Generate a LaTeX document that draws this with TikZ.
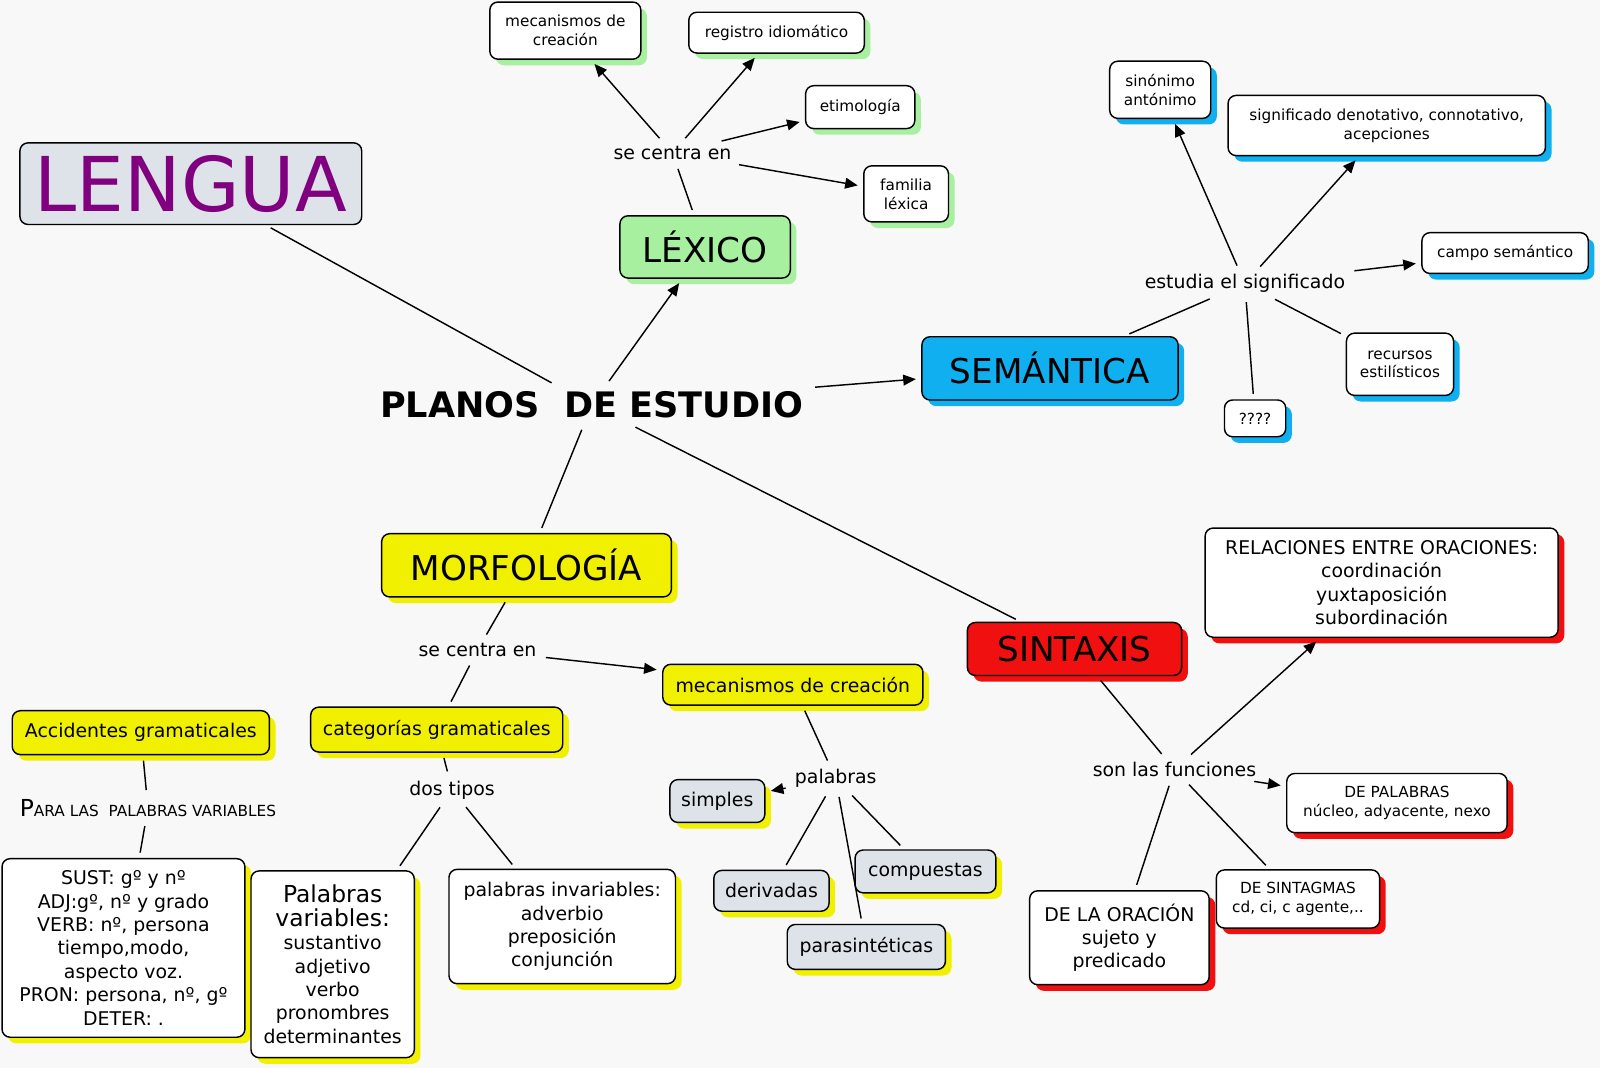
\documentclass[tikz,border=0pt]{standalone}
\usepackage{fontspec}
\setmainfont{DejaVu Sans}
\usetikzlibrary{shadows,arrows.meta}
\definecolor{bg}{HTML}{F8F8F8}
\definecolor{grn}{HTML}{A6F0A0}
\definecolor{blu}{HTML}{10B0F0}
\definecolor{yel}{HTML}{F0F000}
\definecolor{redd}{HTML}{F01010}
\definecolor{gry}{HTML}{DDE3E8}
\definecolor{purp}{HTML}{800080}
\def\PX{0.567pt}
\tikzset{
  bx/.style={draw, line width=0.8pt, rounded corners=4.5pt, align=center, inner sep=2pt,
    drop shadow={shadow xshift=3.4pt, shadow yshift=-3.4pt, fill=#1, opacity=1}},
  sm/.style={font=\fontsize{8.5}{10.5}\selectfont},
  md/.style={font=\fontsize{10.5}{13}\selectfont},
  big/.style={font=\fontsize{19}{23}\selectfont},
  lab/.style={md, inner sep=2pt},
  ln/.style={line width=0.8pt, shorten <=3pt, shorten >=3pt},
  ar/.style={ln, -{Triangle[length=7pt,width=6pt]}},
}
\begin{document}
\begin{tikzpicture}[x=0.567pt,y=-0.567pt]
\fill[bg] (0,0) rectangle (1568,1047);
\useasboundingbox (0,0) rectangle (1568,1047);
% main
\node[draw, line width=0.8pt, rounded corners=4.5pt, fill=gry, text=purp, font=\fontsize{42}{46}\selectfont,
  minimum width=335*\PX, minimum height=80*\PX] (lengua) at (187,180) {LENGUA};
\node[font=\fontsize{19.5}{24}\selectfont\bfseries] (planos) at (580,397) {PLANOS\ \ DE ESTUDIO};
% lexico
\node[bx=grn, fill=grn, big, minimum width=167*\PX, minimum height=61*\PX] (lexico) at (691,242) {LÉXICO};
\node[lab] (sc1) at (659,150) {se centra en};
\node[bx=grn, fill=white, sm, minimum width=148*\PX, minimum height=56*\PX] (mec1) at (554,30) {mecanismos de\\creación};
\node[bx=grn, fill=white, sm, minimum width=172*\PX, minimum height=40*\PX] (reg) at (761,32) {registro idiomático};
\node[bx=grn, fill=white, sm, minimum width=107*\PX, minimum height=42*\PX] (eti) at (843,105) {etimología};
\node[bx=grn, fill=white, sm, minimum width=83*\PX, minimum height=55*\PX] (fam) at (888,190) {familia\\léxica};
% semantica
\node[bx=blu, fill=blu, big, minimum width=251*\PX, minimum height=62*\PX] (sem) at (1029,361) {SEMÁNTICA};
\node[lab] (est) at (1220,278) {estudia el significado};
\node[bx=blu, fill=white, sm, minimum width=99*\PX, minimum height=56*\PX] (sin) at (1137,88) {sinónimo\\antónimo};
\node[bx=blu, fill=white, sm, minimum width=311*\PX, minimum height=59*\PX] (sig) at (1359,123) {significado denotativo, connotativo,\\acepciones};
\node[bx=blu, fill=white, sm, minimum width=163*\PX, minimum height=40*\PX] (cam) at (1475,248) {campo semántico};
\node[bx=blu, fill=white, sm, minimum width=105*\PX, minimum height=61*\PX] (rec) at (1372,357) {recursos\\estilísticos};
\node[bx=blu, fill=white, sm, minimum width=60*\PX, minimum height=36*\PX] (qq) at (1230,410) {????};
% morfologia
\node[bx=yel, fill=yel, big, minimum width=284*\PX, minimum height=62*\PX] (mor) at (516,554) {MORFOLOGÍA};
\node[lab] (sc2) at (468,637) {se centra en};
\node[bx=yel, fill=yel, md, minimum width=255*\PX, minimum height=40*\PX] (mec2) at (777,671) {mecanismos de creación};
\node[bx=yel, fill=yel, md, minimum width=247*\PX, minimum height=44*\PX] (cat) at (428,715) {categorías gramaticales};
\node[bx=yel, fill=yel, md, minimum width=252*\PX, minimum height=43*\PX] (acc) at (138,718) {Accidentes gramaticales};
\node[inner sep=2pt] (para) at (145,792) {\fontsize{13}{15}\selectfont P\fontsize{8.5}{10}\selectfont ARA LAS\ \ PALABRAS VARIABLES};
\node[bx=yel, fill=white, md, minimum width=238*\PX, minimum height=175*\PX] (sust) at (121,929)
  {SUST: gº y nº\\ADJ:gº, nº y grado\\VERB: nº, persona\\tiempo,modo,\\aspecto voz.\\PRON: persona, nº, gº\\DETER: .};
\node[lab] (dos) at (443,774) {dos tipos};
\node[bx=yel, fill=white, md, minimum width=160*\PX, minimum height=183*\PX] (pv) at (326,945)
  {{\fontsize{13}{15}\selectfont Palabras}\\{\fontsize{13}{15}\selectfont variables:}\\sustantivo\\adjetivo\\verbo\\pronombres\\determinantes};
\node[bx=yel, fill=white, md, minimum width=222*\PX, minimum height=112*\PX] (pi) at (551,908)
  {palabras invariables:\\adverbio\\preposición\\conjunción};
\node[lab] (pal) at (819,763) {palabras};
\node[bx=yel, fill=gry, md, minimum width=93*\PX, minimum height=42*\PX] (simp) at (703,785) {simples};
\node[bx=yel, fill=gry, md, minimum width=113*\PX, minimum height=40*\PX] (der) at (756,873) {derivadas};
\node[bx=yel, fill=gry, md, minimum width=138*\PX, minimum height=42*\PX] (comp) at (907,854) {compuestas};
\node[bx=yel, fill=gry, md, minimum width=155*\PX, minimum height=44*\PX] (para2) at (849,928) {parasintéticas};
% sintaxis
\node[bx=redd, fill=redd, big, minimum width=210*\PX, minimum height=52*\PX] (sint) at (1053,636) {SINTAXIS};
\node[lab] (son) at (1151,754) {son las funciones};
\node[bx=redd, fill=white, md, minimum width=346*\PX, minimum height=107*\PX] (rel) at (1354,571)
  {RELACIONES ENTRE ORACIONES:\\coordinación\\yuxtaposición\\subordinación};
\node[bx=redd, fill=white, sm, minimum width=216*\PX, minimum height=58*\PX] (dp) at (1369,787) {DE PALABRAS\\núcleo, adyacente, nexo};
\node[bx=redd, fill=white, sm, minimum width=160*\PX, minimum height=57*\PX] (ds) at (1272,881) {DE SINTAGMAS\\cd, ci, c agente,..};
\node[bx=redd, fill=white, md, minimum width=176*\PX, minimum height=92*\PX] (do) at (1097,919) {DE LA ORACIÓN\\sujeto y\\predicado};
% connectors
\draw[ln] (lengua) -- (planos);
\draw[ar] (planos) -- (lexico);
\draw[ln] (lexico) -- (sc1);
\draw[ar] (sc1) -- (mec1);
\draw[ar] (sc1) -- (reg);
\draw[ar] (sc1) -- (eti);
\draw[ar] (sc1) -- (fam);
\draw[ar] (planos) -- (sem);
\draw[ln] (sem) -- (est);
\draw[ar] (est) -- (sin);
\draw[ar] (est) -- (sig);
\draw[ar] (est) -- (cam);
\draw[ln] (est) -- (rec);
\draw[ln] (est) -- (qq);
\draw[ln] (planos) -- (mor);
\draw[ln] (planos) -- (sint);
\draw[ln] (mor) -- (sc2);
\draw[ln] (sc2) -- (cat);
\draw[ar] (sc2) -- (mec2);
\draw[ln] (acc) -- (para);
\draw[ln] (para) -- (sust);
\draw[ln] (cat) -- (dos);
\draw[ln] (dos) -- (pv);
\draw[ln] (dos) -- (pi);
\draw[ln] (mec2) -- (pal);
\draw[ar] (pal) -- (simp);
\draw[ln] (pal) -- (der);
\draw[ln] (pal) -- (para2);
\draw[ln] (pal) -- (comp);
\draw[ln] (sint) -- (son);
\draw[ar] (son) -- (rel);
\draw[ar] (son) -- (dp);
\draw[ln] (son) -- (do);
\draw[ln] (son) -- (ds);
\end{tikzpicture}
\end{document}
